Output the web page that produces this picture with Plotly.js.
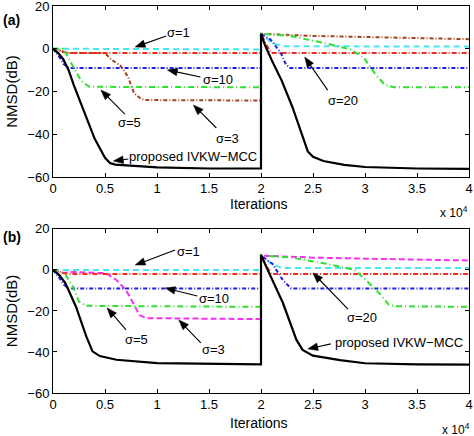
<!DOCTYPE html>
<html>
<head>
<meta charset="utf-8">
<script src="https://cdn.plot.ly/plotly-3.0.1.min.js"></script>
<style>
  html, body { margin: 0; padding: 0; background: #fff; }
  #chart { width: 474px; height: 436px; }
</style>
</head>
<body>
<div id="chart"></div>
<script>
// Panel (a): NMSD curves, x in units of 10^4 iterations
const aBlackX = [0, 0.05, 0.1, 0.15, 0.2, 0.3, 0.4, 0.5, 0.55, 0.6, 0.8, 1.0, 1.5, 2.0, 2.0, 2.04, 2.1, 2.2, 2.3, 2.4, 2.45, 2.5, 2.6, 2.8, 3.0, 3.5, 4.0];
const aBlackY = [0, -2, -5, -10, -17, -30, -42, -51, -53.5, -54.2, -55, -55.5, -56, -56, 7, 1.5, -5, -15, -27, -41, -48, -50.5, -52.5, -54.3, -55.3, -56, -56.2];
const aCyanX = [0, 2.0, 2.0, 2.1, 2.2, 4.0];
const aCyanY = [0, -0.3, 7, 3, 1.2, 1];
const aRedX = [0, 0.05, 0.1, 0.15, 2.0, 2.0, 2.05, 2.1, 4.0];
const aRedY = [0, -0.5, -1.5, -2, -2, 7, 2, -2, -2];
const aBlueX = [0, 0.05, 0.1, 0.15, 2.0, 2.0, 2.09, 2.19, 2.24, 2.28, 4.0];
const aBlueY = [0, -3, -7, -9, -9, 7, 4.4, -1.9, -7.4, -9, -9];
const aGreenX = [0, 0.1, 0.19, 0.27, 0.35, 2.0, 2.0, 2.28, 2.6, 2.86, 2.99, 3.09, 3.19, 3.28, 4.0];
const aGreenY = [0, 0, -8, -15, -17.8, -18, 7, 6, 2.8, -0.3, -4.2, -11.3, -16.9, -18, -18];
const aBrownX = [0, 0.1, 0.15, 0.5, 0.56, 0.65, 0.72, 0.78, 0.85, 0.9, 2.0, 2.0, 2.5, 3.0, 3.5, 4.0];
const aBrownY = [0, -1.5, -2, -2, -5, -8, -13, -20.8, -23.6, -24, -24.2, 7, 6, 5.5, 5, 4.5];

// Panel (b)
const bBlackX = [0, 0.06, 0.12, 0.22, 0.32, 0.38, 0.45, 0.61, 1.0, 1.5, 2.0, 2.0, 2.05, 2.21, 2.34, 2.4, 2.5, 2.76, 3.0, 3.5, 4.0];
const bBlackY = [0, -2.5, -6.5, -17.8, -32.4, -39.7, -42, -43.8, -45.4, -45.7, -46, 7.4, 1.6, -16, -34, -39, -41.8, -44, -45.5, -46, -46.2];
const bCyanX = [0, 2.0, 2.0, 2.1, 2.2, 4.0];
const bCyanY = [0, 0, 7, 3, 1, 1];
const bRedX = [0, 0.05, 0.1, 0.15, 2.0, 2.0, 2.05, 2.1, 4.0];
const bRedY = [0, -0.5, -1.5, -2, -2, 7, 2, -2, -2];
const bBlueX = [0, 0.05, 0.1, 0.15, 2.0, 2.0, 2.11, 2.21, 2.29, 4.0];
const bBlueY = [0, -3, -7, -9, -9, 7, 3, -5, -9, -9];
const bGreenX = [0, 0.12, 0.19, 0.25, 0.32, 2.0, 2.0, 2.3, 2.6, 2.9, 3.01, 3.14, 3.23, 3.3, 4.0];
const bGreenY = [0, -2.4, -8, -15.4, -17.5, -18, 7, 6, 3.3, 0, -5, -11.5, -17, -17.7, -18];
const bMagentaX = [0, 0.1, 0.2, 0.51, 0.61, 0.7, 0.77, 0.83, 0.9, 2.0, 2.0, 2.5, 3.0, 3.5, 4.0];
const bMagentaY = [0, -1.5, -1, -1.6, -4.9, -9.7, -16, -22, -23.5, -24, 7, 6, 5.5, 5, 4.6];

const xTicks = [0, 0.5, 1, 1.5, 2, 2.5, 3, 3.5, 4];
const yTicks = [-60, -40, -20, 0, 20];

// callouts: label, text position (data), arrow target (data), arrow tail offset from target (px)
const aNotes = [
    ['σ=1', 1.21, 7.4, 0.79, 0.8, 31, -11],
    ['σ=10', 1.59, -14.6, 1.10, -9.9, 33, 7],
    ['σ=5', 0.74, -34.5, 0.46, -19.3, 24, 24],
    ['σ=3', 1.68, -41.8, 1.35, -26.3, 23, 23],
    ['σ=20', 2.79, -24, 2.42, -3.9, 23, 33],
    ['proposed IVKW−MCC', 0.71, -50.6, 0.58, -52.5, 15, -2]
];
const bNotes = [
    ['σ=1', 1.30, 8.8, 0.79, 2.4, 40, -15],
    ['σ=10', 1.55, -14.1, 1.08, -8.8, 32, 8],
    ['σ=5', 0.80, -34.1, 0.52, -18.5, 19, 22],
    ['σ=3', 1.54, -38.6, 1.21, -24.4, 22, 23],
    ['σ=20', 2.97, -23.4, 2.50, -1.5, 35, 36],
    ['proposed IVKW−MCC', 2.69, -35.6, 2.45, -38.5, 23, -5]
];

const FONT = 'Liberation Sans, Arial, sans-serif';

function line(x, y, color, dash, axes, width) {
    return {
        x: x, y: y, xaxis: axes[0], yaxis: axes[1],
        type: 'scatter', mode: 'lines', showlegend: false, hoverinfo: 'skip',
        line: { color: color, width: width || 2, dash: dash }
    };
}

const A = ['x', 'y'];
const B = ['x2', 'y2'];
const data = [
    line(aCyanX, aCyanY, '#45e6f2', '6px,4px', A),
    line(aBrownX, aBrownY, '#a3421b', '4px,2px,1px,2px', A),
    line(aRedX, aRedY, '#f52a1e', '5px,2px,1px,2px', A),
    line(aBlueX, aBlueY, '#1f1fe6', '4px,2px,1px,2px', A),
    line(aGreenX, aGreenY, '#2fe02f', '6px,3px,1px,3px', A),
    line(aBlackX, aBlackY, '#000', 'solid', A, 2.2),
    line(bCyanX, bCyanY, '#45e6f2', '6px,4px', B),
    line(bMagentaX, bMagentaY, '#f531ee', '6px,3px', B),
    line(bRedX, bRedY, '#f52a1e', '5px,2px,1px,2px', B),
    line(bBlueX, bBlueY, '#1f1fe6', '4px,2px,1px,2px', B),
    line(bGreenX, bGreenY, '#2fe02f', '6px,3px,1px,3px', B),
    line(bBlackX, bBlackY, '#000', 'solid', B, 2.2)
];

function xAxis(anchor) {
    return {
        anchor: anchor, range: [0, 4], tickvals: xTicks, ticktext: xTicks.map(String),
        ticks: 'inside', ticklen: 4, tickcolor: '#000', showline: true, linecolor: '#000',
        linewidth: 1, mirror: 'ticks', showgrid: false, zeroline: false,
        ticklabelstandoff: -1, ticklabeloverflow: 'allow',
        tickfont: { family: FONT, size: 13, color: '#000' }
    };
}
function yAxis(domainY, anchor) {
    return {
        anchor: anchor, domain: domainY, range: [-60, 20], tickvals: yTicks,
        ticks: 'inside', ticklen: 4, tickcolor: '#000', showline: true, linecolor: '#000',
        linewidth: 1, mirror: 'ticks', showgrid: false, zeroline: false,
        ticklabeloverflow: 'allow',
        tickfont: { family: FONT, size: 13, color: '#000' },
        title: { text: 'NMSD(dB)', font: { family: FONT, size: 15, color: '#000' }, standoff: 6 }
    };
}

// arrow as two pixel-sized shapes anchored at the target: the shaft and a filled head
function arrowShapes(xr, yr, x, y, ax, ay) {
    const len = Math.hypot(ax, ay);
    const tx = ax / len, ty = ay / len;      // unit vector target -> tail (screen, y down)
    const L = 10, W = 3.8;
    const b1 = [L * tx - W * ty, L * ty + W * tx];
    const b2 = [L * tx + W * ty, L * ty - W * tx];
    const common = { xref: xr, yref: yr, xsizemode: 'pixel', ysizemode: 'pixel', xanchor: x, yanchor: y };
    return [
        Object.assign({ type: 'line', x0: L * tx * 0.8, y0: -L * ty * 0.8, x1: ax, y1: -ay,
            line: { color: '#000', width: 1.1 } }, common),
        Object.assign({ type: 'path',
            path: 'M0,0 L' + b1[0].toFixed(2) + ',' + (-b1[1]).toFixed(2) +
                  ' L' + b2[0].toFixed(2) + ',' + (-b2[1]).toFixed(2) + ' Z',
            fillcolor: '#000', line: { color: '#000', width: 0.5 } }, common)
    ];
}
function text(xr, yr, x, y, t, anchor) {
    return {
        xref: xr, yref: yr, x: x, y: y, text: t, showarrow: false,
        xanchor: anchor || 'center', yanchor: 'middle',
        font: { family: FONT, size: 13, color: '#000' }
    };
}
function label(x, y, t, size, anchor) {
    return {
        xref: 'paper', yref: 'paper', x: x, y: y, text: t, showarrow: false,
        xanchor: anchor || 'center', yanchor: 'middle',
        font: { family: FONT, size: size, color: '#000' }
    };
}

const annotations = [];
const shapes = [];
[[aNotes, 'x', 'y'], [bNotes, 'x2', 'y2']].forEach(([notes, xr, yr]) => {
    notes.forEach(n => {
        const anchor = n[0].length > 5 ? 'left' : 'center';
        annotations.push(text(xr, yr, n[1], n[2], n[0], anchor));
        shapes.push(...arrowShapes(xr, yr, n[3], n[4], n[5], n[6]));
    });
});
annotations.push(
    label(0.495, 0.488, 'Iterations', 14),
    label(0.495, -0.078, 'Iterations', 14),
    label(1.003, 0.468, 'x 10<sup>4</sup>', 12, 'right'),
    label(1.008, -0.093, 'x 10<sup>4</sup>', 12, 'right'),
    label(-0.099, 0.964, '<b>(a)</b>', 14),
    label(-0.099, 0.403, '<b>(b)</b>', 14)
);

const layout = {
    width: 474, height: 436,
    margin: { l: 53, r: 5, t: 6, b: 43 },
    paper_bgcolor: '#fff', plot_bgcolor: '#fff',
    xaxis: xAxis('y'),
    yaxis: yAxis([0.558, 1], 'x'),
    xaxis2: xAxis('y2'),
    yaxis2: yAxis([0, 0.424], 'x2'),
    annotations: annotations,
    shapes: shapes
};

Plotly.newPlot('chart', data, layout, { staticPlot: true });
</script>
</body>
</html>
